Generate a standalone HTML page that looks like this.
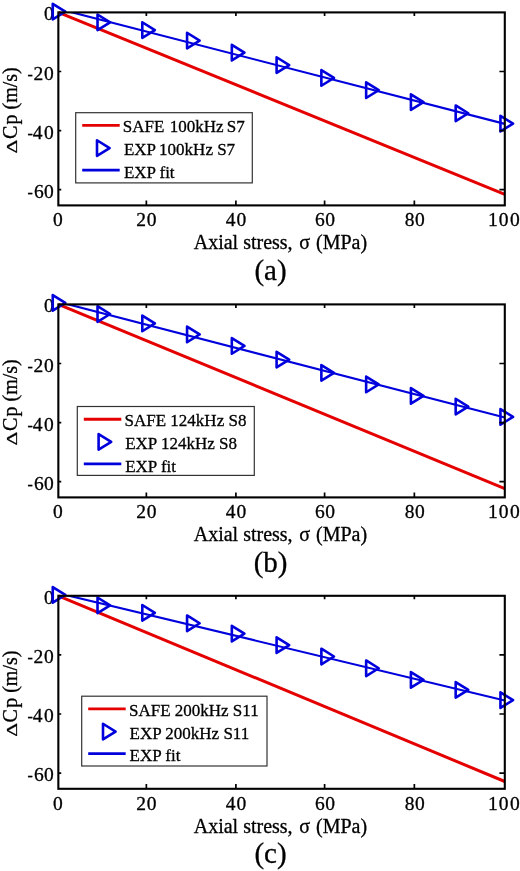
<!DOCTYPE html>
<html><head><meta charset="utf-8"><title>Axial stress vs phase velocity change</title>
<style>
html,body{margin:0;padding:0;background:#fff;}
svg{display:block;}
text{font-family:'Liberation Serif','Times New Roman',serif;fill:#000;stroke:#000;stroke-width:0.3px;}
.tk{font-size:19.5px;letter-spacing:0px;}
.lg{font-size:17px;}
.xl{font-size:20px;}
.yl{font-size:20px;}
.cp{font-size:29px;}
</style></head><body>
<svg width="520" height="871" viewBox="0 0 520 871">
<rect x="0" y="0" width="520" height="871" fill="#fff"/>
<clipPath id="c0"><rect x="58.35" y="12.4" width="446.45" height="193"/></clipPath>
<line x1="58.35" y1="12.4" x2="504.8" y2="194.3" stroke="#e50000" stroke-width="3"/>
<line clip-path="url(#c0)" x1="58.35" y1="8.85" x2="504.8" y2="123.9" stroke="#0000dd" stroke-width="2.1"/>
<text class="tk" x="52.9" y="226.3">0</text>
<text class="tk" x="136.25 146.85" y="226.3">20</text>
<text class="tk" x="225.8 236.6" y="226.3">40</text>
<text class="tk" x="314.9 325.3" y="226.3">60</text>
<text class="tk" x="404.65 415.05" y="226.3">80</text>
<text class="tk" x="488.1 498.7 509.9" y="226.3">100</text>
<text class="tk" x="43.9" y="20.4">0</text>
<text class="tk" y="79.5"><tspan x="27.6" style="font-size:16px">-</tspan><tspan x="33.57 43.9">20</tspan></text>
<text class="tk" y="138.6"><tspan x="27.6" style="font-size:16px">-</tspan><tspan x="32.63 43.9">40</tspan></text>
<text class="tk" y="197.65"><tspan x="27.6" style="font-size:16px">-</tspan><tspan x="34.08 43.9">60</tspan></text>
<g fill="none" stroke="#0000dd" stroke-width="2.6" stroke-linejoin="round"><path d="M52.75 3.8L65.35 11.6L52.75 19.4Z"/><path d="M97.52 14.5L110.12 22.3L97.52 30.1Z"/><path d="M142.29 22.25L154.89 30.05L142.29 37.85Z"/><path d="M187.06 32.75L199.66 40.55L187.06 48.35Z"/><path d="M231.83 44.85L244.43 52.65L231.83 60.45Z"/><path d="M276.6 57.25L289.2 65.05L276.6 72.85Z"/><path d="M321.37 70.15L333.97 77.95L321.37 85.75Z"/><path d="M366.14 82.4L378.74 90.2L366.14 98Z"/><path d="M410.91 94.3L423.51 102.1L410.91 109.9Z"/><path d="M455.68 105.45L468.28 113.25L455.68 121.05Z"/><path d="M500.45 115.85L513.05 123.65L500.45 131.45Z"/></g>
<rect x="58.35" y="12.4" width="446.45" height="193" fill="none" stroke="#000" stroke-width="2.1"/>
<path d="M146.35 205.4V200.5M146.35 12.4V15.9M235.9 205.4V200.5M235.9 12.4V15.9M324.6 205.4V200.5M324.6 12.4V15.9M414.35 205.4V200.5M414.35 12.4V15.9M58.35 71.5H61.25M504.8 71.5H499.4M58.35 130.6H61.25M504.8 130.6H499.4M58.35 189.65H61.25M504.8 189.65H499.4" stroke="#000" stroke-width="1.7" fill="none"/>
<text class="xl" y="249.1"><tspan x="193.7">Axial </tspan><tspan x="243.18">stress, </tspan><tspan x="299.34">σ </tspan><tspan x="316.02">(MPa)</tspan></text>
<text class="yl" transform="translate(16.7 152.6) rotate(-90) scale(1.08 0.76) translate(-0.76 0)" x="0" y="0">Δ</text>
<text class="yl" transform="translate(17 139.12) rotate(-90)" x="0" y="0"><tspan>C</tspan><tspan x="14.7">p (m/s)</tspan></text>
<text class="cp" x="254.46" y="279.6">(a)</text>
<rect x="75.7" y="112.7" width="176.6" height="70.2" fill="#fff" stroke="#333" stroke-width="1.2"/>
<line x1="82.2" y1="125.4" x2="119.7" y2="125.4" stroke="#e50000" stroke-width="2.9"/>
<g fill="none" stroke="#0000dd" stroke-width="2.6" stroke-linejoin="round"><path d="M97 140.25L109.6 148.05L97 155.85Z"/></g>
<line x1="82.2" y1="170.1" x2="119.7" y2="170.1" stroke="#0000dd" stroke-width="2.9"/>
<text class="lg" y="132.4"><tspan x="122.86">SAFE </tspan><tspan x="169.71">100kHz </tspan><tspan x="226.76">S7</tspan></text>
<text class="lg" y="155.2"><tspan x="123.91">EXP </tspan><tspan x="159.11">100kHz </tspan><tspan x="217.16">S7</tspan></text>
<text class="lg" y="177.9"><tspan x="123.91">EXP </tspan><tspan x="159.48">fit</tspan></text>
<clipPath id="c1"><rect x="58.35" y="304.4" width="446.45" height="193"/></clipPath>
<line x1="58.35" y1="304.4" x2="504.8" y2="488.6" stroke="#e50000" stroke-width="3"/>
<line clip-path="url(#c1)" x1="58.35" y1="301.8" x2="504.8" y2="417.6" stroke="#0000dd" stroke-width="2.1"/>
<text class="tk" x="52.9" y="518.3">0</text>
<text class="tk" x="136.25 146.85" y="518.3">20</text>
<text class="tk" x="225.8 236.6" y="518.3">40</text>
<text class="tk" x="314.9 325.3" y="518.3">60</text>
<text class="tk" x="404.65 415.05" y="518.3">80</text>
<text class="tk" x="488.1 498.7 509.9" y="518.3">100</text>
<text class="tk" x="43.9" y="312.4">0</text>
<text class="tk" y="371.5"><tspan x="27.6" style="font-size:16px">-</tspan><tspan x="33.57 43.9">20</tspan></text>
<text class="tk" y="430.6"><tspan x="27.6" style="font-size:16px">-</tspan><tspan x="32.63 43.9">40</tspan></text>
<text class="tk" y="489.65"><tspan x="27.6" style="font-size:16px">-</tspan><tspan x="34.08 43.9">60</tspan></text>
<g fill="none" stroke="#0000dd" stroke-width="2.6" stroke-linejoin="round"><path d="M52.75 295.1L65.35 302.9L52.75 310.7Z"/><path d="M97.52 306.2L110.12 314L97.52 321.8Z"/><path d="M142.29 315.65L154.89 323.45L142.29 331.25Z"/><path d="M187.06 326.65L199.66 334.45L187.06 342.25Z"/><path d="M231.83 338.15L244.43 345.95L231.83 353.75Z"/><path d="M276.6 351.8L289.2 359.6L276.6 367.4Z"/><path d="M321.37 365.05L333.97 372.85L321.37 380.65Z"/><path d="M366.14 376.65L378.74 384.45L366.14 392.25Z"/><path d="M410.91 388.1L423.51 395.9L410.91 403.7Z"/><path d="M455.68 398.75L468.28 406.55L455.68 414.35Z"/><path d="M500.45 409.15L513.05 416.95L500.45 424.75Z"/></g>
<rect x="58.35" y="304.4" width="446.45" height="193" fill="none" stroke="#000" stroke-width="2.1"/>
<path d="M146.35 497.4V492.5M146.35 304.4V307.9M235.9 497.4V492.5M235.9 304.4V307.9M324.6 497.4V492.5M324.6 304.4V307.9M414.35 497.4V492.5M414.35 304.4V307.9M58.35 363.5H61.25M504.8 363.5H499.4M58.35 422.6H61.25M504.8 422.6H499.4M58.35 481.65H61.25M504.8 481.65H499.4" stroke="#000" stroke-width="1.7" fill="none"/>
<text class="xl" y="541.1"><tspan x="193.7">Axial </tspan><tspan x="243.18">stress, </tspan><tspan x="299.34">σ </tspan><tspan x="316.02">(MPa)</tspan></text>
<text class="yl" transform="translate(16.7 444.6) rotate(-90) scale(1.08 0.76) translate(-0.76 0)" x="0" y="0">Δ</text>
<text class="yl" transform="translate(17 431.12) rotate(-90)" x="0" y="0"><tspan>C</tspan><tspan x="14.7">p (m/s)</tspan></text>
<text class="cp" x="253.65" y="571.6">(b)</text>
<rect x="77.3" y="406.5" width="177" height="68.9" fill="#fff" stroke="#333" stroke-width="1.2"/>
<line x1="83.8" y1="419.2" x2="121.3" y2="419.2" stroke="#e50000" stroke-width="2.9"/>
<g fill="none" stroke="#0000dd" stroke-width="2.6" stroke-linejoin="round"><path d="M98.6 434.05L111.2 441.85L98.6 449.65Z"/></g>
<line x1="83.8" y1="463.9" x2="121.3" y2="463.9" stroke="#0000dd" stroke-width="2.9"/>
<text class="lg" x="124.56" y="426.2">SAFE 124kHz S8</text>
<text class="lg" x="125.21" y="449">EXP 124kHz S8</text>
<text class="lg" x="125.21" y="471.7">EXP fit</text>
<clipPath id="c2"><rect x="58.35" y="595.8" width="446.45" height="193"/></clipPath>
<line x1="58.35" y1="595.8" x2="504.8" y2="781.5" stroke="#e50000" stroke-width="3"/>
<line clip-path="url(#c2)" x1="58.35" y1="593.2" x2="504.8" y2="700.5" stroke="#0000dd" stroke-width="2.1"/>
<text class="tk" x="52.9" y="809.7">0</text>
<text class="tk" x="136.25 146.85" y="809.7">20</text>
<text class="tk" x="225.8 236.6" y="809.7">40</text>
<text class="tk" x="314.9 325.3" y="809.7">60</text>
<text class="tk" x="404.65 415.05" y="809.7">80</text>
<text class="tk" x="488.1 498.7 509.9" y="809.7">100</text>
<text class="tk" x="43.9" y="603.8">0</text>
<text class="tk" y="662.9"><tspan x="27.6" style="font-size:16px">-</tspan><tspan x="33.57 43.9">20</tspan></text>
<text class="tk" y="722"><tspan x="27.6" style="font-size:16px">-</tspan><tspan x="32.63 43.9">40</tspan></text>
<text class="tk" y="781.05"><tspan x="27.6" style="font-size:16px">-</tspan><tspan x="34.08 43.9">60</tspan></text>
<g fill="none" stroke="#0000dd" stroke-width="2.6" stroke-linejoin="round"><path d="M52.75 587.1L65.35 594.9L52.75 602.7Z"/><path d="M97.52 597.5L110.12 605.3L97.52 613.1Z"/><path d="M142.29 605L154.89 612.8L142.29 620.6Z"/><path d="M187.06 615.45L199.66 623.25L187.06 631.05Z"/><path d="M231.83 625.85L244.43 633.65L231.83 641.45Z"/><path d="M276.6 637.35L289.2 645.15L276.6 652.95Z"/><path d="M321.37 648.7L333.97 656.5L321.37 664.3Z"/><path d="M366.14 660.45L378.74 668.25L366.14 676.05Z"/><path d="M410.91 672.1L423.51 679.9L410.91 687.7Z"/><path d="M455.68 682.05L468.28 689.85L455.68 697.65Z"/><path d="M500.45 692.35L513.05 700.15L500.45 707.95Z"/></g>
<rect x="58.35" y="595.8" width="446.45" height="193" fill="none" stroke="#000" stroke-width="2.1"/>
<path d="M146.35 788.8V783.9M146.35 595.8V599.3M235.9 788.8V783.9M235.9 595.8V599.3M324.6 788.8V783.9M324.6 595.8V599.3M414.35 788.8V783.9M414.35 595.8V599.3M58.35 654.9H61.25M504.8 654.9H499.4M58.35 714H61.25M504.8 714H499.4M58.35 773.05H61.25M504.8 773.05H499.4" stroke="#000" stroke-width="1.7" fill="none"/>
<text class="xl" y="832.5"><tspan x="193.7">Axial </tspan><tspan x="243.18">stress, </tspan><tspan x="299.34">σ </tspan><tspan x="316.02">(MPa)</tspan></text>
<text class="yl" transform="translate(16.7 736) rotate(-90) scale(1.08 0.76) translate(-0.76 0)" x="0" y="0">Δ</text>
<text class="yl" transform="translate(17 722.52) rotate(-90)" x="0" y="0"><tspan>C</tspan><tspan x="14.7">p (m/s)</tspan></text>
<text class="cp" x="254.46" y="863">(c)</text>
<rect x="81.7" y="696.2" width="185.3" height="69.8" fill="#fff" stroke="#333" stroke-width="1.2"/>
<line x1="88.2" y1="708.9" x2="125.7" y2="708.9" stroke="#e50000" stroke-width="2.9"/>
<g fill="none" stroke="#0000dd" stroke-width="2.6" stroke-linejoin="round"><path d="M103 723.75L115.6 731.55L103 739.35Z"/></g>
<line x1="88.2" y1="753.6" x2="125.7" y2="753.6" stroke="#0000dd" stroke-width="2.9"/>
<text class="lg" x="128.96" y="715.9">SAFE 200kHz S11</text>
<text class="lg" x="129.61" y="738.7">EXP 200kHz S11</text>
<text class="lg" x="129.61" y="761.4">EXP fit</text>
</svg>
</body></html>
